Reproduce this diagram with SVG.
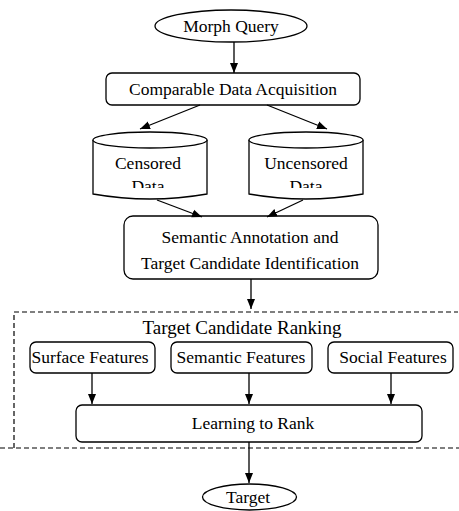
<svg xmlns="http://www.w3.org/2000/svg" width="459" height="511" viewBox="0 0 459 511">
<style>
.s{fill:#fff;stroke:#000;stroke-width:1.3}
.t{font-family:"Liberation Serif","Times New Roman",serif;font-size:17.5px;fill:#000;text-anchor:middle}
.h{font-size:19px}
.c{stroke:#000;stroke-width:1.3;fill:none;marker-end:url(#a)}
</style>
<defs>
<marker id="a" viewBox="0 0 10 10" refX="10" refY="5" markerWidth="10" markerHeight="10" markerUnits="userSpaceOnUse" orient="auto">
<path d="M0,1 L10,5 L0,9 z" fill="#000"/>
</marker>
<clipPath id="cl"><rect x="0" y="0" width="459" height="188"/></clipPath>
</defs>
<rect width="459" height="511" fill="#fff"/>
<g id="ranking-group">
<path d="M14,448 L14,312 L458,312" fill="none" stroke="#000" stroke-width="1.2" stroke-dasharray="5,3"/>
<path d="M0,448 L459,448" fill="none" stroke="#000" stroke-width="1.2" stroke-dasharray="5,3"/>
<text class="t h" x="242" y="334">Target Candidate Ranking</text>
</g>
<g id="morph-query">
<ellipse class="s" cx="231" cy="26" rx="76" ry="16"/>
<text class="t" x="231" y="32">Morph Query</text>
</g>
<g id="acquisition">
<rect class="s" x="106" y="73" width="254" height="32" rx="6"/>
<text class="t" x="233" y="95">Comparable Data Acquisition</text>
</g>
<g id="censored">
<path class="s" d="M93,140 L93,194 Q150,204 207,194 L207,140"/>
<ellipse class="s" cx="150" cy="140" rx="57" ry="8"/>
<text class="t" x="148" y="169">Censored</text>
<text class="t" x="148" y="192" clip-path="url(#cl)">Data</text>
</g>
<g id="uncensored">
<path class="s" d="M249,140 L249,194 Q306,204 363,194 L363,140"/>
<ellipse class="s" cx="306" cy="140" rx="57" ry="8"/>
<text class="t" x="306" y="169">Uncensored</text>
<text class="t" x="306" y="192" clip-path="url(#cl)">Data</text>
</g>
<g id="semantic-annotation">
<rect class="s" x="124" y="216" width="254" height="63" rx="9"/>
<text class="t" x="250" y="243">Semantic Annotation and</text>
<text class="t" x="250" y="269">Target Candidate Identification</text>
</g>
<g id="surface">
<rect class="s" x="30" y="342" width="125" height="31" rx="6"/>
<text class="t" x="90" y="363">Surface Features</text>
</g>
<g id="semantic-features">
<rect class="s" x="171" y="342" width="141" height="31" rx="6"/>
<text class="t" x="241" y="363">Semantic Features</text>
</g>
<g id="social">
<rect class="s" x="328" y="342" width="125" height="31" rx="6"/>
<text class="t" x="393" y="363">Social Features</text>
</g>
<g id="learning">
<rect class="s" x="76" y="405" width="346" height="37" rx="6"/>
<text class="t" x="253" y="429">Learning to Rank</text>
</g>
<g id="target">
<ellipse class="s" cx="249.5" cy="497" rx="47" ry="13"/>
<text class="t" x="248" y="503">Target</text>
</g>
<g id="connectors">
<path class="c" d="M234,42 L234,73"/>
<path class="c" d="M200,105 L140,129"/>
<path class="c" d="M267,105 L327,129"/>
<path class="c" d="M157,200 L202,217"/>
<path class="c" d="M303,200 L267,217"/>
<path class="c" d="M251,279 L251,309"/>
<path class="c" d="M92,373 L92,404"/>
<path class="c" d="M249,373 L249,404"/>
<path class="c" d="M391,373 L391,404"/>
<path class="c" d="M249,442 L249,483"/>
</g>
</svg>
